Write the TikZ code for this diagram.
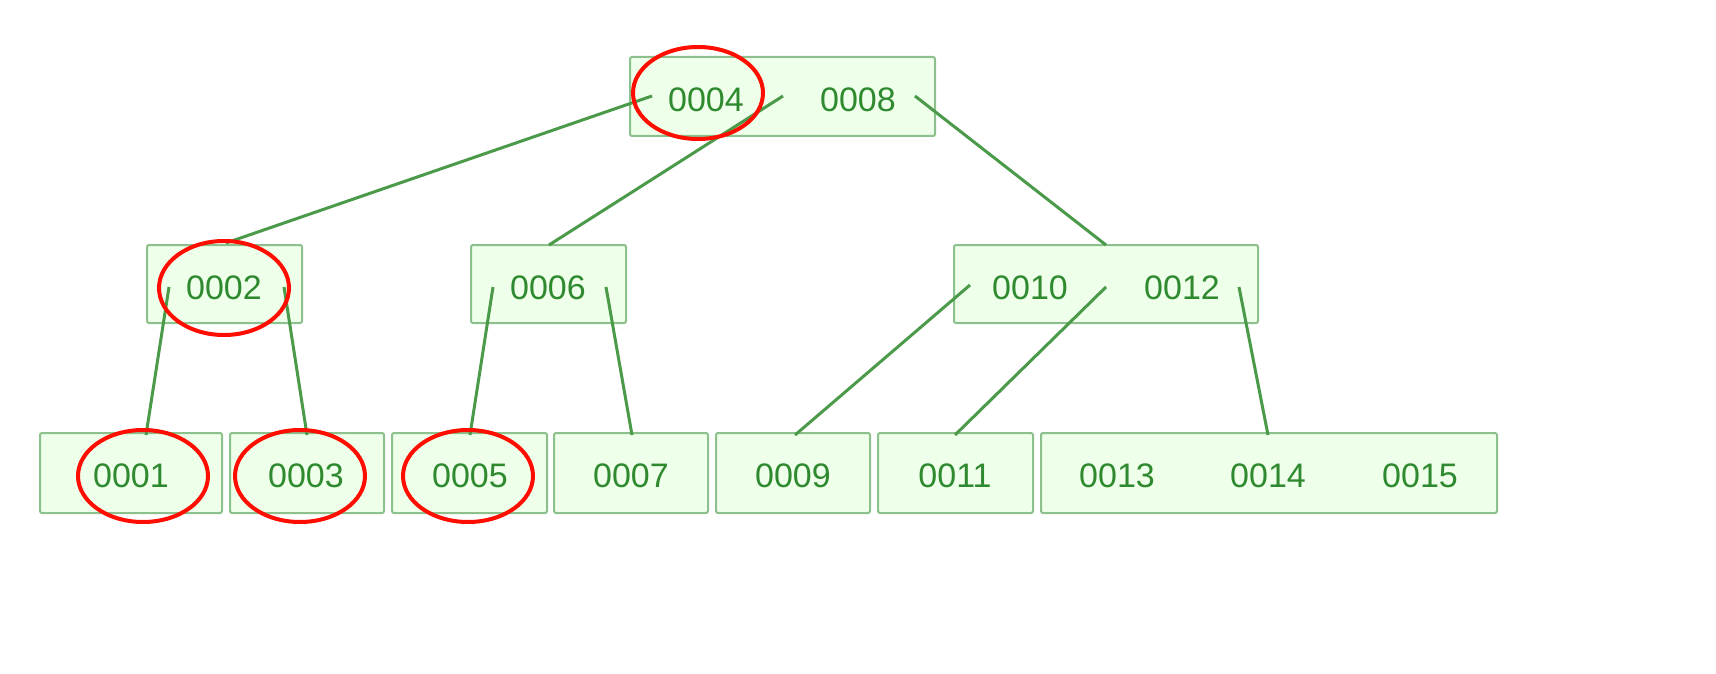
\documentclass[tikz,border=0pt]{standalone}
\usepackage{fontspec}
\setmainfont{Liberation Sans}
\definecolor{boxfill}{HTML}{EEFFEA}
\definecolor{boxline}{HTML}{8CC08C}
\definecolor{txt}{HTML}{2F8A2F}
\definecolor{edgec}{HTML}{4A9A4A}
\begin{document}
\begin{tikzpicture}[x=1pt,y=-1pt,
  box/.style={draw=boxline,fill=boxfill,line width=2pt,rounded corners=2pt},
  lbl/.style={text=txt,font=\fontsize{34}{34}\selectfont},
  edge/.style={draw=edgec,line width=3pt},
  redring/.style={draw=red!90!orange,line width=4pt}]
\useasboundingbox (0,0) rectangle (1716,674);
% boxes
\draw[box] (630,57) rectangle (935,136);
\draw[box] (147,245) rectangle (302,323);
\draw[box] (471,245) rectangle (626,323);
\draw[box] (954,245) rectangle (1258,323);
\draw[box] (40,433) rectangle (222,513);
\draw[box] (230,433) rectangle (384,513);
\draw[box] (392,433) rectangle (547,513);
\draw[box] (554,433) rectangle (708,513);
\draw[box] (716,433) rectangle (870,513);
\draw[box] (878,433) rectangle (1033,513);
\draw[box] (1041,433) rectangle (1497,513);
% labels
\node[lbl] (n4) at (706,100) {0004};
\node[lbl] (n8) at (858,100) {0008};
\node[lbl] (n2) at (224,288) {0002};
\node[lbl] (n6) at (548,288) {0006};
\node[lbl] (n10) at (1030,288) {0010};
\node[lbl] (n12) at (1182,288) {0012};
\node[lbl] (n1) at (131,476) {0001};
\node[lbl] (n3) at (306,476) {0003};
\node[lbl] (n5) at (470,476) {0005};
\node[lbl] (n7) at (631,476) {0007};
\node[lbl] (n9) at (793,476) {0009};
\node[lbl] (n11) at (955,476) {0011};
\node[lbl] (n13) at (1117,476) {0013};
\node[lbl] (n14) at (1268,476) {0014};
\node[lbl] (n15) at (1420,476) {0015};
% connector endpoints
\coordinate (r0) at (652,96); \coordinate (r1) at (783,96); \coordinate (r2) at (915,96);
\coordinate (a0) at (226,243); \coordinate (b0) at (549,245); \coordinate (c0) at (1106,245);
\coordinate (a1) at (169,287); \coordinate (a2) at (284,287);
\coordinate (b1) at (493,287); \coordinate (b2) at (606,287);
\coordinate (c1) at (970,285); \coordinate (c2) at (1106,287); \coordinate (c3) at (1239,287);
\coordinate (l1) at (146,435); \coordinate (l3) at (307,435); \coordinate (l5) at (470,435);
\coordinate (l7) at (632,435); \coordinate (l9) at (795,435); \coordinate (l11) at (955,435);
\coordinate (l13) at (1268,435);
\draw[edge] (r0) -- (a0); \draw[edge] (r1) -- (b0); \draw[edge] (r2) -- (c0);
\draw[edge] (a1) -- (l1); \draw[edge] (a2) -- (l3);
\draw[edge] (b1) -- (l5); \draw[edge] (b2) -- (l7);
\draw[edge] (c1) -- (l9); \draw[edge] (c2) -- (l11); \draw[edge] (c3) -- (l13);
% red marks
\draw[redring] (698,93) ellipse [x radius=65,y radius=46];
\draw[redring] (224,288) ellipse [x radius=65,y radius=47];
\draw[redring] (143,476) ellipse [x radius=65,y radius=46];
\draw[redring] (300,476) ellipse [x radius=65,y radius=46];
\draw[redring] (468,476) ellipse [x radius=65,y radius=46];
\end{tikzpicture}
\end{document}
